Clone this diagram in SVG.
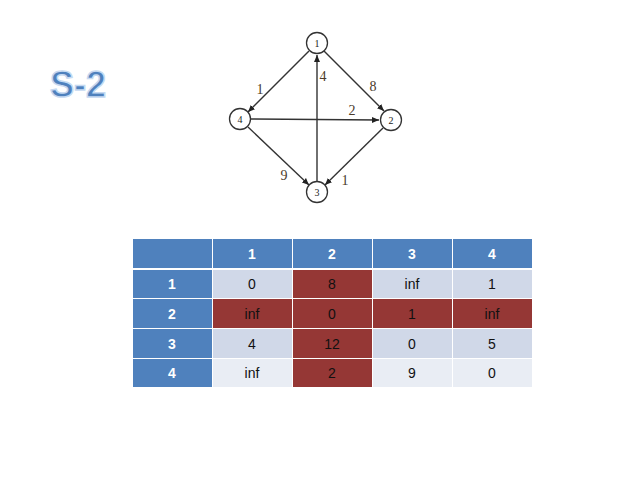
<svg xmlns="http://www.w3.org/2000/svg" width="638" height="478" viewBox="0 0 638 478">
<style>
.n circle{fill:#fff;stroke:#333;stroke-width:1.3}
.n text{font-family:"Liberation Serif",serif;font-size:10px;fill:#222;text-anchor:middle}
.e line{stroke:#333;stroke-width:1.4;marker-end:url(#a)}
.lb{font-family:"Liberation Serif",serif;font-size:14px;fill:#4a3a2a;text-anchor:middle}
.h{fill:#4f81bd}.l1{fill:#d0d8e8}.l2{fill:#e9edf4}.r{fill:#953735}
.th{font-family:"Liberation Sans",Arial,sans-serif;font-size:14px;font-weight:bold;fill:#fff;text-anchor:middle}
.td{font-family:"Liberation Sans",Arial,sans-serif;font-size:14px;fill:#111;text-anchor:middle}
</style>
<defs><marker id="a" markerWidth="8" markerHeight="8" refX="7" refY="4" orient="auto" markerUnits="userSpaceOnUse"><path d="M0,1 L7,4 L0,7 z" fill="#222"/></marker></defs>
<rect width="638" height="478" fill="#fff"/>
<text x="78" y="97" font-family="Liberation Sans,Arial,sans-serif" font-size="36" font-weight="bold" fill="#4f81bd" stroke="#c6d9f1" stroke-width="1.5" text-anchor="middle">S-2</text>
<g id="edges" class="e">
<line x1="309" y1="51" x2="248" y2="112"/>
<line x1="324" y1="51" x2="384" y2="111"/>
<line x1="251" y1="119" x2="379" y2="120"/>
<line x1="317" y1="181" x2="317" y2="55"/>
<line x1="248" y1="127" x2="309" y2="185"/>
<line x1="383" y1="128" x2="325" y2="185"/>
</g>
<text class="lb" x="260" y="94">1</text>
<text class="lb" x="373" y="91">8</text>
<text class="lb" x="323" y="81">4</text>
<text class="lb" x="352" y="115">2</text>
<text class="lb" x="284" y="180">9</text>
<text class="lb" x="345" y="185">1</text>
<g id="node1" class="n"><circle cx="317" cy="43" r="10.5"/><text x="317" y="47">1</text></g>
<g id="node2" class="n"><circle cx="391" cy="120" r="10.5"/><text x="391" y="124">2</text></g>
<g id="node3" class="n"><circle cx="317" cy="192" r="10.5"/><text x="317" y="196">3</text></g>
<g id="node4" class="n"><circle cx="240" cy="119" r="10.5"/><text x="240" y="123">4</text></g>
<g id="table">
<rect class="h" x="133" y="239" width="79" height="29"/>
<rect class="h" x="213" y="239" width="79" height="29"/>
<rect class="h" x="293" y="239" width="79" height="29"/>
<rect class="h" x="373" y="239" width="79" height="29"/>
<rect class="h" x="453" y="239" width="79" height="29"/>
<text class="th" x="252" y="259">1</text><text class="th" x="332" y="259">2</text><text class="th" x="412" y="259">3</text><text class="th" x="492" y="259">4</text>
<rect class="h" x="133" y="270" width="79" height="28"/>
<rect class="l1" x="213" y="270" width="79" height="28"/>
<rect class="r" x="293" y="270" width="79" height="28"/>
<rect class="l1" x="373" y="270" width="79" height="28"/>
<rect class="l1" x="453" y="270" width="79" height="28"/>
<text class="th" x="172" y="289">1</text><text class="td" x="252" y="289">0</text><text class="td" x="332" y="289">8</text><text class="td" x="412" y="289">inf</text><text class="td" x="492" y="289">1</text>
<rect class="h" x="133" y="299" width="79" height="29"/>
<rect class="r" x="213" y="299" width="79" height="29"/>
<rect class="r" x="293" y="299" width="79" height="29"/>
<rect class="r" x="373" y="299" width="79" height="29"/>
<rect class="r" x="453" y="299" width="79" height="29"/>
<text class="th" x="172" y="319">2</text><text class="td" x="252" y="319">inf</text><text class="td" x="332" y="319">0</text><text class="td" x="412" y="319">1</text><text class="td" x="492" y="319">inf</text>
<rect class="h" x="133" y="329" width="79" height="29"/>
<rect class="l1" x="213" y="329" width="79" height="29"/>
<rect class="r" x="293" y="329" width="79" height="29"/>
<rect class="l1" x="373" y="329" width="79" height="29"/>
<rect class="l1" x="453" y="329" width="79" height="29"/>
<text class="th" x="172" y="349">3</text><text class="td" x="252" y="349">4</text><text class="td" x="332" y="349">12</text><text class="td" x="412" y="349">0</text><text class="td" x="492" y="349">5</text>
<rect class="h" x="133" y="359" width="79" height="28"/>
<rect class="l2" x="213" y="359" width="79" height="28"/>
<rect class="r" x="293" y="359" width="79" height="28"/>
<rect class="l2" x="373" y="359" width="79" height="28"/>
<rect class="l2" x="453" y="359" width="79" height="28"/>
<text class="th" x="172" y="378">4</text><text class="td" x="252" y="378">inf</text><text class="td" x="332" y="378">2</text><text class="td" x="412" y="378">9</text><text class="td" x="492" y="378">0</text>
</g>
</svg>
